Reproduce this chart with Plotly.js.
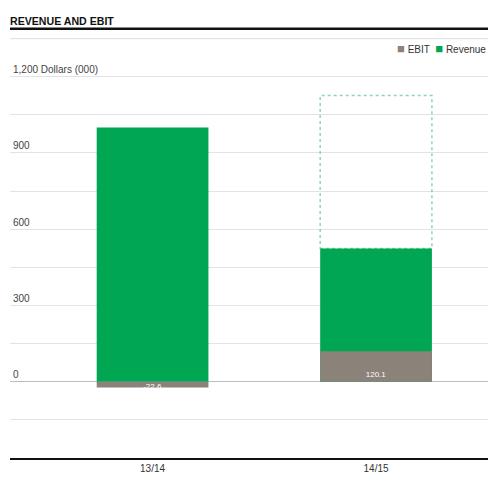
<!DOCTYPE html>
<html>
<head>
<meta charset="utf-8">
<script src="https://cdn.plot.ly/plotly-3.0.1.min.js"></script>
<style>html,body{margin:0;padding:0;background:#fff;}#chart{width:500px;height:491px;}</style>
</head>
<body>
<div id="chart"></div>
<script>
// ---- data ----
const categories = ['13/14', '14/15'];
const revenue = [1000, 524];
const ebit = [-22.6, 120.1];
const revenueTarget = [null, 1126];
const ebitLabels = ['-22.6', '120.1'];
const seriesNames = ['EBIT', 'Revenue'];
const yTickVals = [-150, 0, 150, 300, 450, 600, 750, 900, 1050, 1200];
const yTickText = ['', '0', '', '300', '', '600', '', '900', '', '1,200 Dollars (000)'];

const GREEN = '#00a651';
const GREY = '#8b8279';
const BAR_W = 0.5;
const FONT = 'Arial, "Liberation Sans", sans-serif';

const traces = [
  {
    type: 'bar', name: seriesNames[1], x: categories, y: revenue, width: BAR_W,
    marker: {color: GREEN}, showlegend: false
  },
  {
    type: 'bar', name: seriesNames[0], x: categories, y: ebit, width: BAR_W,
    marker: {color: GREY}, showlegend: false,
    text: ebitLabels, textposition: 'inside', insidetextanchor: 'start',
    constraintext: 'none', cliponaxis: false,
    textfont: {color: '#ffffff', size: 8, family: FONT}
  }
];

// dotted outline for target revenue, derived from the data arrays
const shapes = [];
revenueTarget.forEach((t, i) => {
  if (t == null) return;
  shapes.push({
    type: 'rect', xref: 'x', yref: 'y',
    x0: i - BAR_W / 2, x1: i + BAR_W / 2, y0: revenue[i], y1: t,
    line: {color: 'rgba(0,166,81,0.45)', width: 1.5, dash: 'dot'},
    fillcolor: 'rgba(0,0,0,0)'
  });
});
// header rules
shapes.push({type: 'line', xref: 'paper', yref: 'paper', x0: 0, x1: 1, y0: 1.0897, y1: 1.0897,
  line: {color: '#111', width: 2.5}});
shapes.push({type: 'line', xref: 'paper', yref: 'paper', x0: 0, x1: 1, y0: 1.0643, y1: 1.0643,
  line: {color: '#dddddd', width: 1}});

const legendText =
  '<span style="color:' + GREY + ';font-size:13px">■</span> ' + seriesNames[0] +
  '  <span style="color:' + GREEN + ';font-size:13px">■</span> ' + seriesNames[1];

const layout = {
  width: 500, height: 491,
  margin: {l: 10, r: 12, t: 64, b: 33},
  paper_bgcolor: '#fff', plot_bgcolor: '#fff',
  font: {family: FONT, color: '#333', size: 10},
  title: {
    text: '<b>REVENUE AND EBIT</b>', xref: 'container', yref: 'container',
    x: 0.02, xanchor: 'left', y: 1 - 21 / 491, yanchor: 'middle',
    font: {size: 10.6, color: '#111', family: FONT}
  },
  barmode: 'overlay',
  showlegend: false,
  annotations: [{
    xref: 'paper', yref: 'paper', x: 1, y: 1.0389, xanchor: 'right', yanchor: 'middle',
    text: legendText, showarrow: false, font: {size: 10, color: '#333', family: FONT}
  }],
  xaxis: {
    type: 'category', range: [-0.638, 1.501], fixedrange: true,
    showgrid: false, zeroline: false,
    showline: true, linecolor: '#111', linewidth: 2,
    ticks: '', tickfont: {size: 10, color: '#333'}
  },
  yaxis: {
    range: [-300, 1250], fixedrange: true,
    tickmode: 'array', tickvals: yTickVals, ticktext: yTickText,
    ticklabelposition: 'inside top', ticks: '',
    tickfont: {size: 10, color: '#444'},
    showgrid: true, gridcolor: '#e3e3e3', gridwidth: 1,
    zeroline: true, zerolinecolor: '#bdbdbd', zerolinewidth: 1,
    showline: false
  },
  shapes: shapes
};

Plotly.newPlot('chart', traces, layout, {displayModeBar: false, staticPlot: true});
</script>
</body>
</html>
